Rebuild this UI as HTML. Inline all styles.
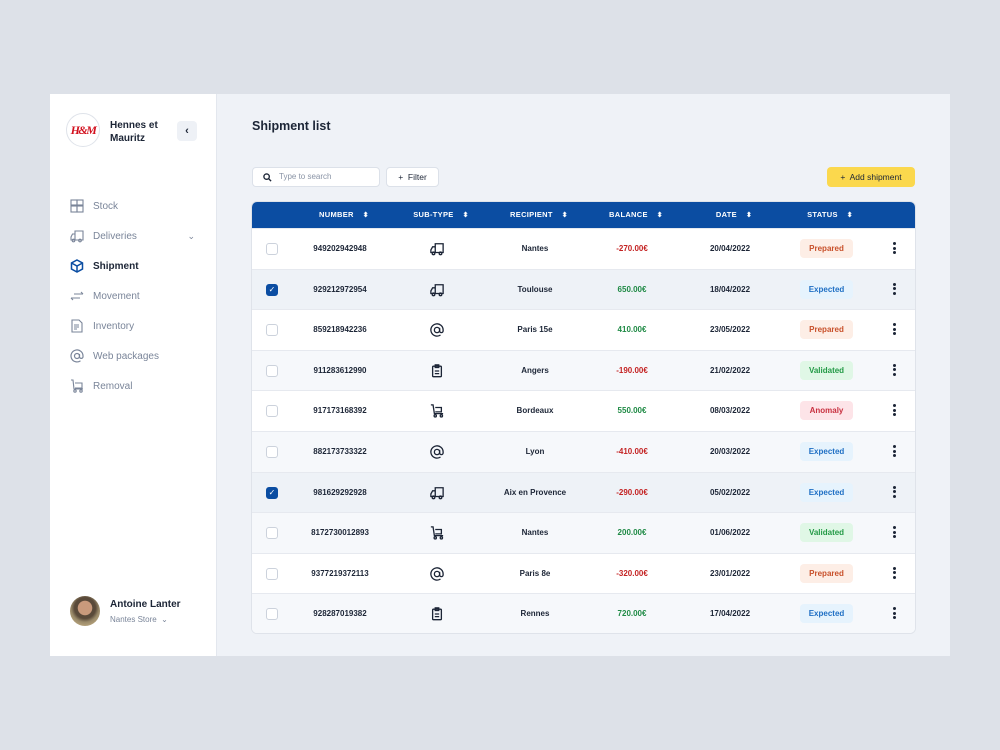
<!DOCTYPE html>
<html><head><meta charset="utf-8">
<style>
*{box-sizing:border-box;margin:0;padding:0}
body{width:1000px;height:750px;background:#dde1e8;font-family:"Liberation Sans",sans-serif;position:relative;overflow:hidden;color:#1c2536}
#app{position:absolute;left:50px;top:94px;width:900px;height:562px;background:#eff2f7}
#side{position:absolute;left:0;top:0;width:167px;height:562px;background:#fff;border-right:1px solid #e3e7ee}
.logo{position:absolute;left:16px;top:19px;width:34px;height:34px;border-radius:50%;border:1px solid #dfe3ea;background:#fff;color:#d2101e;font-style:italic;font-weight:bold;font-size:12px;text-align:center;line-height:32px;letter-spacing:-1.5px;font-family:"Liberation Serif",serif}
.brand{position:absolute;left:60px;top:25px;font-size:10px;font-weight:bold;line-height:13px;color:#1c2536}
.collapse{position:absolute;left:127px;top:27px;width:20px;height:20px;border-radius:4px;background:#eef1f6;font-size:11px;text-align:center;line-height:20px;font-weight:bold}
.nav{position:absolute;left:20px;display:flex;align-items:center;font-size:10px;color:#7a8599}
.nav svg{width:14px;height:14px;margin-right:9px}
.nav.active{color:#1c2536;font-weight:bold}
.user{position:absolute;left:20px;top:502px}
.avatar{position:absolute;left:0;top:0;width:30px;height:30px;border-radius:50%;background:radial-gradient(circle at 50% 40%,#c99a7c 0 30%,#5a4a3a 32% 45%,#9a8a6a 60%,#d8c090 100%)}
.uname{position:absolute;left:40px;top:3px;font-size:10px;font-weight:bold;white-space:nowrap}
.ustore{position:absolute;left:40px;top:19px;font-size:8px;color:#7a8599;white-space:nowrap}
h1{position:absolute;left:202px;top:25px;font-size:12.5px;font-weight:bold;color:#1c2536}
.search{position:absolute;left:202px;top:73px;width:128px;height:20px;background:#fff;border:1px solid #dce1e9;border-radius:4px;font-size:8px;color:#8a94a6;line-height:18px;padding-left:26px}
.filter{position:absolute;left:336px;top:73px;width:53px;height:20px;background:#fff;border:1px solid #dce1e9;border-radius:4px;font-size:8.5px;line-height:18px;text-align:center;color:#1c2536}
.add{position:absolute;left:777px;top:73px;width:88px;height:20px;background:#fbd84d;border-radius:4px;font-size:8.5px;line-height:20px;text-align:center;color:#1c2536}
#table{position:absolute;left:202px;top:108px;width:663px;height:431px;background:#fff;border-radius:5px;overflow:hidden;box-shadow:0 0 0 1px #dfe3ea}
.thead{position:absolute;left:0;top:0;width:663px;height:26px;background:#0b4da2}
.th{position:absolute;top:0;height:26px;line-height:26px;font-size:7.5px;font-weight:bold;color:#fff;transform:translateX(-50%);white-space:nowrap;letter-spacing:.3px}
.th span{margin-left:9px;font-size:7px}
.row{position:absolute;left:0;width:663px;height:40.6px;border-top:1px solid #e6e9ef}
.cell{position:absolute;top:0;height:40px;line-height:40px;font-size:8px;font-weight:bold;transform:translateX(-50%);white-space:nowrap}
.cb{position:absolute;left:14px;top:14px;width:12px;height:12px;border:1px solid #ccd2dc;border-radius:3px;background:#fff}
.cb.on{background:#0b4da2;border-color:#0b4da2;color:#fff;font-size:8px;line-height:10px;text-align:center}
.badge{position:absolute;top:10px;height:19px;line-height:19px;width:53px;margin-left:-26px;border-radius:4px;font-size:8px;font-weight:bold;text-align:center}
.dots{position:absolute;left:641px;top:13px;width:3px}
.dots i{display:block;width:3px;height:3px;border-radius:50%;background:#1c2536;margin-bottom:1.5px}
</style></head><body>
<div id="app">
 <div id="side">
  <div class="logo">H&amp;M</div>
  <div class="brand">Hennes et<br>Mauritz</div>
  <div class="collapse">‹</div>
  <div class="nav" style="top:105px"><svg viewBox="0 0 14 14" fill="none" stroke="#7a8599" stroke-width="1.1"><rect x="1" y="1" width="6" height="5"/><rect x="7" y="1" width="6" height="5"/><rect x="1" y="7" width="6" height="6"/><rect x="7" y="7" width="6" height="6"/></svg>Stock</div>
  <div class="nav" style="top:135px;width:125px"><svg viewBox="0 0 14 14" fill="none" stroke="#7a8599" stroke-width="1.1"><path d="M5 2h8v9H5zM5 5H2.5L1 8v3h4"/><circle cx="3.5" cy="11.5" r="1.3"/><circle cx="10" cy="11.5" r="1.3"/></svg>Deliveries<span style="position:absolute;right:0;font-size:9px">⌄</span></div>
  <div class="nav active" style="top:165px"><svg viewBox="0 0 14 14" fill="none" stroke="#0b4da2" stroke-width="1.5"><path d="M7 1l5.5 3v6L7 13 1.5 10V4zM1.5 4L7 7l5.5-3M7 7v6"/></svg>Shipment</div>
  <div class="nav" style="top:195px"><svg viewBox="0 0 14 14" fill="none" stroke="#7a8599" stroke-width="1.1"><path d="M4 5h9M11 3l2 2M10 9H1M3 11L1 9"/></svg>Movement</div>
  <div class="nav" style="top:225px"><svg viewBox="0 0 14 14" fill="none" stroke="#7a8599" stroke-width="1.1"><path d="M2 1h7l3 3v9H2zM4 6h5M4 8h5M4 10h3"/></svg>Inventory</div>
  <div class="nav" style="top:255px"><svg viewBox="0 0 14 14" fill="none" stroke="#7a8599" stroke-width="1.2"><circle cx="7" cy="7" r="2.5"/><path d="M9.5 5v3a1.8 1.8 0 003.5 0V7a6 6 0 10-2.5 4.8"/></svg>Web packages</div>
  <div class="nav" style="top:285px"><svg viewBox="0 0 14 14" fill="none" stroke="#7a8599" stroke-width="1.1"><path d="M1 1h2l1 9h9M5 4h7v5H5"/><circle cx="5" cy="12" r="1.2"/><circle cx="11" cy="12" r="1.2"/></svg>Removal</div>
  <div class="user">
   <div class="avatar"></div>
   <div class="uname">Antoine Lanter</div>
   <div class="ustore">Nantes Store &nbsp;⌄</div>
  </div>
 </div>
 <h1>Shipment list</h1>
 <div class="search"><svg style="position:absolute;left:10px;top:5px" width="9" height="9" viewBox="0 0 10 10" fill="none" stroke="#1c2536" stroke-width="1.5"><circle cx="4" cy="4" r="3"/><path d="M6.5 6.5L9 9"/></svg>Type to search</div>
 <div class="filter">+&nbsp; Filter</div>
 <div class="add">+&nbsp; Add shipment</div>
 <div id="table">
  <div class="thead">
   <div class="th" style="left:92px">NUMBER<span>⬍</span></div>
   <div class="th" style="left:189px">SUB-TYPE<span>⬍</span></div>
   <div class="th" style="left:287px">RECIPIENT<span>⬍</span></div>
   <div class="th" style="left:384px">BALANCE<span>⬍</span></div>
   <div class="th" style="left:482px">DATE<span>⬍</span></div>
   <div class="th" style="left:578px">STATUS<span>⬍</span></div>
  </div>
 </div>
</div>
<script>
const rows=[
["949202942948","truck","Nantes","-270.00€","20/04/2022","Prepared",0],
["929212972954","truck","Toulouse","650.00€","18/04/2022","Expected",1],
["859218942236","at","Paris 15e","410.00€","23/05/2022","Prepared",0],
["911283612990","clip","Angers","-190.00€","21/02/2022","Validated",0],
["917173168392","cart","Bordeaux","550.00€","08/03/2022","Anomaly",0],
["882173733322","at","Lyon","-410.00€","20/03/2022","Expected",0],
["981629292928","truck","Aix en Provence","-290.00€","05/02/2022","Expected",1],
["8172730012893","cart","Nantes","200.00€","01/06/2022","Validated",0],
["9377219372113","at","Paris 8e","-320.00€","23/01/2022","Prepared",0],
["928287019382","clip","Rennes","720.00€","17/04/2022","Expected",0]];
const icons={
truck:'<path d="M6 2h9v10H6zM6 5.5H3L1 9v3h5"/><circle cx="4" cy="13" r="1.5"/><circle cx="12" cy="13" r="1.5"/>',
at:'<circle cx="8" cy="8" r="3"/><path d="M11 5.5v3.5a2 2 0 004 0V8a7 7 0 10-3 5.7"/>',
clip:'<rect x="3" y="2.5" width="10" height="12" rx="1"/><rect x="6" y="1" width="4" height="3"/><path d="M5.5 8h5M5.5 11h5"/>',
cart:'<path d="M1 1h2.5l1.5 10h10M6 4h7v5H6"/><circle cx="6" cy="13.5" r="1.3"/><circle cx="13" cy="13.5" r="1.3"/>'};
const badge={Prepared:["#fdeee6","#c8502a"],Expected:["#e6f3fd","#1f6fc4"],Validated:["#e0f7e6","#239a46"],Anomaly:["#fde4e8","#c8303f"]};
const t=document.getElementById('table');
rows.forEach((r,i)=>{
 const d=document.createElement('div');
 d.className='row';
 
 
 d.style.top=(26+i*40.6)+'px';
 d.style.background=r[6]?'#eef2f7':(i%2?'#f6f8fb':'#fff');
 const neg=r[3][0]==='-';
 const b=badge[r[5]];
 d.innerHTML=`<div class="cb ${r[6]?'on':''}">${r[6]?'✓':''}</div>
<div class="cell" style="left:88px">${r[0]}</div>
<div class="cell" style="left:185px;top:13px;height:14px;line-height:14px"><svg width="14" height="14" viewBox="0 0 16 16" fill="none" stroke="#1c2536" stroke-width="1.5">${icons[r[1]]}</svg></div>
<div class="cell" style="left:283px">${r[2]}</div>
<div class="cell" style="left:380px;color:${neg?'#c42323':'#1f8a45'}">${r[3]}</div>
<div class="cell" style="left:478px">${r[4]}</div>
<div class="badge" style="left:574px;background:${b[0]};color:${b[1]}">${r[5]}</div>
<div class="dots"><i></i><i></i><i></i></div>`;
 t.appendChild(d);
});
</script>
</body></html>
